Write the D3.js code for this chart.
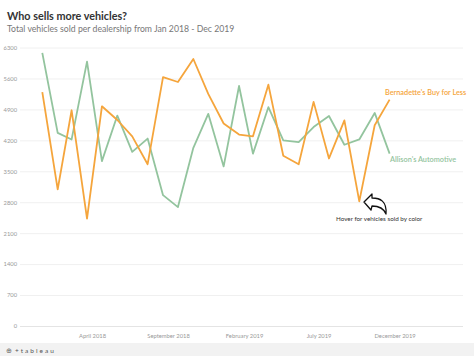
<!DOCTYPE html>
<html><head><meta charset="utf-8">
<script src="https://cdn.jsdelivr.net/npm/d3@7"></script>
<style>body{margin:0;background:#fff;}svg{display:block;font-family:Lato,"Open Sans",sans-serif;}</style>
</head><body><svg id="c" width="474" height="356"></svg>
<script>
const months = ["2018-01","2018-02","2018-03","2018-04","2018-05","2018-06","2018-07","2018-08","2018-09","2018-10","2018-11","2018-12",
"2019-01","2019-02","2019-03","2019-04","2019-05","2019-06","2019-07","2019-08","2019-09","2019-10","2019-11","2019-12"];
const bernadette = [5290,3090,4880,2430,4970,4660,4290,3660,5630,5520,6040,5250,4580,4330,4290,5460,3850,3660,5070,3790,4650,2820,4540,5120];
const allison = [6180,4370,4220,5980,3730,4760,3940,4240,2960,2690,4030,4800,3610,5430,3900,4950,4200,4160,4500,4750,4100,4220,4820,3900];
const seriesNames = ["Bernadette's Buy for Less","Allison's Automotive"];
const yTicks = [0,700,1400,2100,2800,3500,4200,4900,5600,6300];
const xTickMonths = ["2018-04","2018-09","2019-02","2019-07","2019-12"];
const xTickLabels = ["April 2018","September 2018","February 2019","July 2019","December 2019"];

const parse = d3.timeParse("%Y-%m");
const svg = d3.select("#c");
const orange = "#F5A53C", green = "#93C49E";

const x = d3.scaleTime().domain([parse(months[0]), parse(months[months.length-1])]).range([42.3, 389.6]);
const y = d3.scaleLinear().domain([0, 6300]).range([326, 47.5]);

// title
svg.append("text").attr("x",7).attr("y",19.5).attr("font-size",10.8).attr("font-weight","bold").attr("fill","#333").text("Who sells more vehicles?");
svg.append("text").attr("x",7).attr("y",31.5).attr("font-size",8.7).attr("fill","#777").text("Total vehicles sold per dealership from Jan 2018 - Dec 2019");

// grid + y axis
const yAxis = d3.axisLeft(y).tickValues(yTicks).tickSize(-(463-20)).tickPadding(3).tickFormat(d3.format("d"));
const gy = svg.append("g").attr("transform","translate(20,0)").call(yAxis);
gy.select(".domain").remove();
gy.selectAll(".tick line").attr("stroke",(d)=> d===0 ? "#e4e4e4" : "#f0f0f0").attr("stroke-width",1);
gy.selectAll(".tick text").attr("fill","#999").attr("font-size",5.8).attr("font-family","Lato,sans-serif");

// x axis
const xAxis = d3.axisBottom(x).tickValues(xTickMonths.map(parse)).tickSize(0).tickPadding(8)
  .tickFormat((d,i)=>xTickLabels[i]);
const gx = svg.append("g").attr("transform","translate(0,326)").call(xAxis);
gx.select(".domain").remove();
gx.selectAll(".tick text").attr("fill","#999").attr("font-size",5.8).attr("dx",5).attr("font-family","Lato,sans-serif");

// lines
const line = vals => d3.line().x((d,i)=>x(parse(months[i]))).y(d=>y(d))(vals);
svg.append("path").attr("d",line(allison)).attr("fill","none").attr("stroke",green).attr("stroke-width",1.8).attr("stroke-linejoin","round");
svg.append("path").attr("d",line(bernadette)).attr("fill","none").attr("stroke",orange).attr("stroke-width",1.8).attr("stroke-linejoin","round");

// series labels
svg.append("text").attr("x",385).attr("y",94.5).attr("font-size",7.3).attr("font-weight","600").attr("fill",orange).text(seriesNames[0]);
svg.append("text").attr("x",390).attr("y",162).attr("font-size",7.3).attr("font-weight","600").attr("fill",green).text(seriesNames[1]);

// annotation
svg.append("path").attr("d","M364,202 L372,194 L372,198 C380,198 387,201 386,214 C384,209 380,206 372,206 L371,210 Z")
  .attr("fill","#fff").attr("stroke","#111").attr("stroke-width",1.3).attr("stroke-linejoin","round");
svg.append("text").attr("x",336).attr("y",220.5).attr("font-size",6.3).attr("fill","#333").text("Hover for vehicles sold by color");

// footer
svg.append("rect").attr("x",0).attr("y",343).attr("width",474).attr("height",13).attr("fill","#f2f2f2");
svg.append("text").attr("x",6).attr("y",352.5).attr("font-size",7).attr("fill","#666").text("\u2295");
svg.append("text").attr("x",15).attr("y",352.5).attr("font-size",6.5).attr("fill","#555").attr("letter-spacing",2).text("+tableau");
</script></body></html>
